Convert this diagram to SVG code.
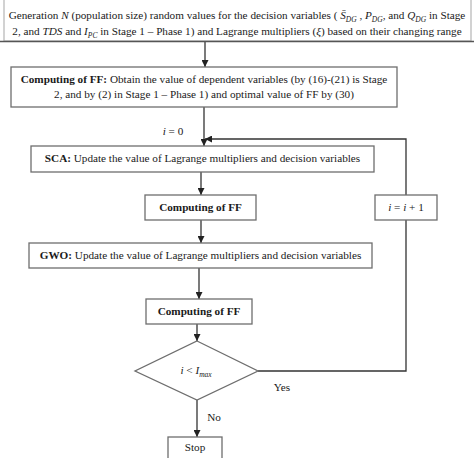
<svg xmlns="http://www.w3.org/2000/svg" width="474" height="458" viewBox="0 0 474 458">
<defs>
<marker id="ah" viewBox="0 0 10 10" refX="10" refY="5" markerWidth="7" markerHeight="7" markerUnits="userSpaceOnUse" orient="auto">
<path d="M0,0 L10,5 L0,10 z" fill="#222"/>
</marker>
<style>
.box{fill:#fff;stroke:#6e6e6e;stroke-width:1.3}
.t{font-family:"Liberation Serif","Times New Roman",serif;font-size:11.2px;fill:#1a1a1a;text-anchor:middle}
.b{font-weight:bold}
.i{font-style:italic}
.sub{font-size:7.5px;font-style:italic}
.ln{fill:none;stroke:#333;stroke-width:1.3}
.lnm{fill:none;stroke:#333;stroke-width:1.3;marker-end:url(#ah)}
</style>
</defs>
<rect width="474" height="458" fill="#fff"/>
<g id="connectors">
<line class="lnm" x1="205" y1="41" x2="205" y2="67"/>
<line class="lnm" x1="204" y1="107" x2="204" y2="146"/>
<polyline class="lnm" points="406,195 406,139 205,139"/>
<line class="lnm" x1="201" y1="172" x2="201" y2="195"/>
<line class="lnm" x1="201" y1="220" x2="201" y2="243"/>
<line class="lnm" x1="199" y1="268" x2="199" y2="299"/>
<line class="lnm" x1="197" y1="324" x2="197" y2="341"/>
<polyline class="ln" points="258,371 406,371 406,220"/>
<line class="lnm" x1="197" y1="400" x2="197" y2="437"/>
<text class="t" x="173" y="135"><tspan class="i">i</tspan> = 0</text>
<text class="t" x="282" y="391">Yes</text>
<text class="t" x="214" y="421">No</text>
</g>
<g id="init">
<rect class="box" x="4" y="-2" width="467" height="43" style="stroke:#bbb"/>
<line x1="0" y1="41.5" x2="474" y2="41.5" stroke="#555" stroke-width="1.3"/>
<text class="t" x="237" y="19">Generation <tspan class="i">N</tspan> (population size) random values for the decision variables ( <tspan class="i">S̄</tspan><tspan class="sub" dy="2.5">DG</tspan><tspan dy="-2.5"> , </tspan><tspan class="i">P</tspan><tspan class="sub" dy="2.5">DG</tspan><tspan dy="-2.5">, and </tspan><tspan class="i">Q</tspan><tspan class="sub" dy="2.5">DG</tspan><tspan dy="-2.5"> in Stage</tspan></text>
<text class="t" x="237" y="35">2, and <tspan class="i">TDS</tspan> and <tspan class="i">I</tspan><tspan class="sub" dy="2.5">PC</tspan><tspan dy="-2.5"> in Stage 1 – Phase 1) and Lagrange multipliers (</tspan><tspan class="i">ξ</tspan>) based on their changing range</text>
</g>
<g id="computeFF0">
<rect class="box" x="11" y="67" width="386" height="40"/>
<text class="t" x="204" y="83"><tspan class="b">Computing of FF:</tspan> Obtain the value of dependent variables (by (16)-(21) is Stage</text>
<text class="t" x="204" y="98">2, and by (2) in Stage 1 – Phase 1) and optimal value of FF by (30)</text>
</g>
<g id="sca">
<rect class="box" x="31" y="146" width="343" height="26"/>
<text class="t" x="202.5" y="162"><tspan class="b">SCA:</tspan> Update the value of Lagrange multipliers and decision variables</text>
</g>
<g id="computeFF1">
<rect class="box" x="145" y="195" width="111" height="25"/>
<text class="t b" x="200.5" y="211">Computing of FF</text>
</g>
<g id="increment">
<rect class="box" x="375" y="195" width="62" height="25"/>
<text class="t" x="406" y="211"><tspan class="i">i</tspan> = <tspan class="i">i</tspan> + 1</text>
</g>
<g id="gwo">
<rect class="box" x="29" y="243" width="343" height="25"/>
<text class="t" x="200.5" y="259"><tspan class="b">GWO:</tspan> Update the value of Lagrange multipliers and decision variables</text>
</g>
<g id="computeFF2">
<rect class="box" x="146" y="299" width="106" height="25"/>
<text class="t b" x="199" y="315">Computing of FF</text>
</g>
<g id="decision">
<polygon class="box" points="197,341 258,371 197,400 135,371"/>
<text class="t" x="196" y="374"><tspan class="i">i</tspan> &lt; <tspan class="i">I</tspan><tspan class="sub" dy="2.5">max</tspan></text>
</g>
<g id="stop">
<rect class="box" x="168" y="437" width="54" height="24"/>
<text class="t" x="195" y="451">Stop</text>
</g>
</svg>
